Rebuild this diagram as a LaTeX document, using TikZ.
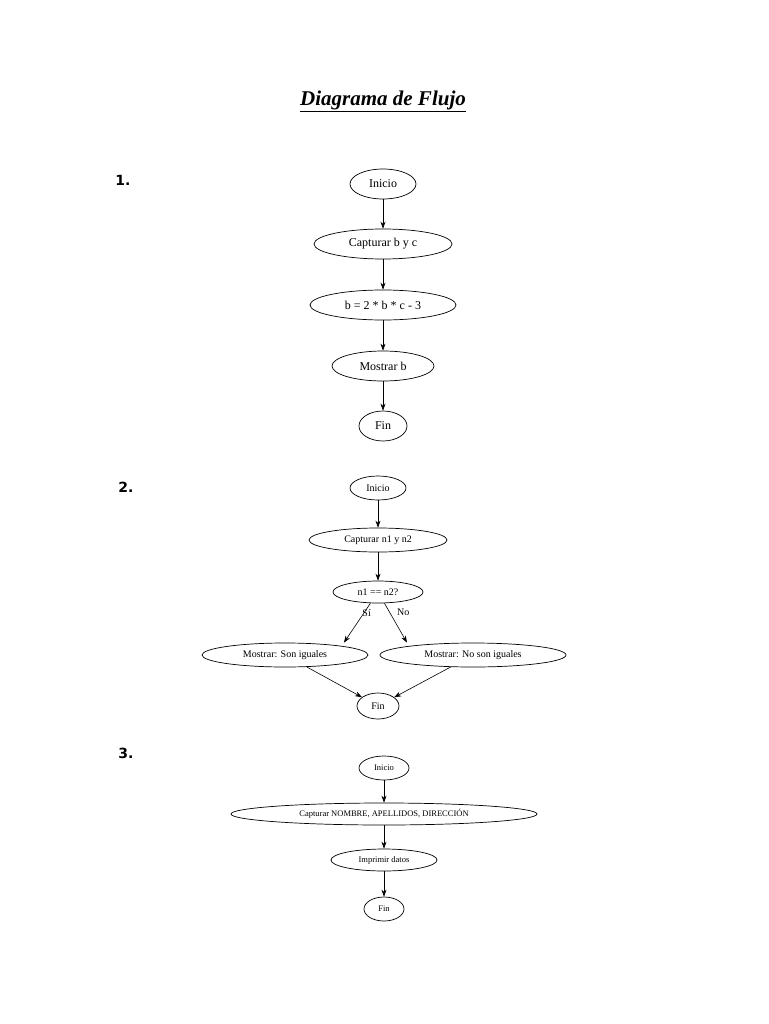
\documentclass[tikz,border=0pt]{standalone}
\usepackage{fontspec}
\setmainfont{Liberation Serif}
\newfontfamily\numfont{DejaVu Sans}
\usetikzlibrary{shapes.geometric,arrows.meta}
\begin{document}
\begin{tikzpicture}[x=1pt,y=-1pt,
  el/.style={draw,ellipse,inner sep=0pt,line width=0.7pt},
  ea/.style={el,font=\fontsize{12}{12}\selectfont},
  eb/.style={el,font=\fontsize{10}{10}\selectfont},
  ec/.style={el,font=\fontsize{8.5}{8.5}\selectfont},
  ar/.style={-{Stealth[length=7pt,width=5pt]},line width=0.6pt},
  num/.style={font=\numfont\bfseries\fontsize{14}{14}\selectfont}]
\useasboundingbox (0,0) rectangle (768,1024);
\fill[white] (0,0) rectangle (768,1024);
\node (title) at (383,101) {\fontsize{21}{21}\selectfont\bfseries\itshape\underline{Diagrama de Flujo}};
\node[num] (n1) at (123,180) {1.};
\node[num] (n2) at (126,487) {2.};
\node[num] (n3) at (126,753) {3.};
% diagram 1
\node[ea,minimum width=66,minimum height=30] (a1) at (383,184) {Inicio};
\node[ea,minimum width=138,minimum height=30] (a2) at (383,244) {Capturar b y c};
\node[ea,minimum width=146,minimum height=30] (a3) at (383,305) {b = 2 * b * c - 3};
\node[ea,minimum width=102,minimum height=30] (a4) at (383,366) {Mostrar b};
\node[ea,minimum width=48,minimum height=30] (a5) at (383,426) {Fin};
\draw[ar] (a1)--(a2); \draw[ar] (a2)--(a3); \draw[ar] (a3)--(a4); \draw[ar] (a4)--(a5);
% diagram 2
\node[eb,minimum width=56,minimum height=24] (b1) at (378,488) {Inicio};
\node[eb,minimum width=138,minimum height=24] (b2) at (378,540) {Capturar n1 y n2};
\node[eb,minimum width=90,minimum height=22] (b3) at (378,592) {n1 == n2?};
\node[eb,minimum width=166,minimum height=24] (b4) at (285,655) {Mostrar: Son iguales};
\node[eb,minimum width=186,minimum height=24] (b5) at (473,655) {Mostrar: No son iguales};
\node[eb,minimum width=42,minimum height=26] (b6) at (378,706) {Fin};
\draw[ar] (b1)--(b2); \draw[ar] (b2)--(b3);
\draw[ar] (b3)--node[pos=0.4,above right=-1pt,font=\fontsize{10}{10}\selectfont]{Sí}(b4.north east |- b4.north) ;
\draw[ar] (b3)--node[pos=0.4,above right=0pt,font=\fontsize{10}{10}\selectfont]{No}(b5.north west |- b5.north);
\draw[ar] (b4)--(b6); \draw[ar] (b5)--(b6);
% diagram 3
\node[ec,minimum width=50,minimum height=24] (c1) at (384,768) {Inicio};
\node[ec,minimum width=306,minimum height=22] (c2) at (384,814) {Capturar NOMBRE, APELLIDOS, DIRECCIÓN};
\node[ec,minimum width=106,minimum height=22] (c3) at (384,860) {Imprimir datos};
\node[ec,minimum width=40,minimum height=24] (c4) at (384,909) {Fin};
\draw[ar] (c1)--(c2); \draw[ar] (c2)--(c3); \draw[ar] (c3)--(c4);
\end{tikzpicture}
\end{document}
